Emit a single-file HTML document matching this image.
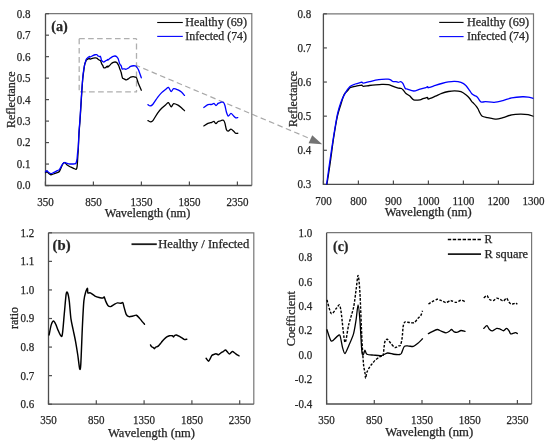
<!DOCTYPE html>
<html><head><meta charset="utf-8"><title>Figure</title>
<style>
html,body{margin:0;padding:0;background:#fff;width:550px;height:442px;overflow:hidden}
svg{display:block}
text{font-family:"Liberation Serif", "DejaVu Serif", serif}
</style></head>
<body>
<svg width="550" height="442" viewBox="0 0 550 442">
<rect width="550" height="442" fill="#fff"/>
<path d="M79.2 38.7 H136.6" fill="none" stroke="#afafaf" stroke-width="1.3" stroke-dasharray="5.6 3.35"/>
<path d="M79.2 38.7 V91.9" fill="none" stroke="#afafaf" stroke-width="1.3" stroke-dasharray="5.6 3.6"/>
<path d="M79.2 91.9 H137" fill="none" stroke="#afafaf" stroke-width="1.3" stroke-dasharray="5.7 3.33" stroke-dashoffset="-0.8"/>
<path d="M136.5 38.7 V91.9" fill="none" stroke="#afafaf" stroke-width="1.3" stroke-dasharray="5.8 3.5" stroke-dashoffset="4.4"/>
<line x1="136.4" y1="65.5" x2="308.5" y2="138.0" stroke="#a9a9a9" stroke-width="1.2" stroke-dasharray="5.6 3.5" stroke-dashoffset="1.65"/>
<polygon points="322.2,144.2 312.2,135.3 308.6,143.2" fill="#737373"/>
<path d="M45.50 13.70 H251.80 V185.50" fill="none" stroke="#777777" stroke-width="1.2"/>
<path d="M45.50 13.70 V185.50 H251.80" fill="none" stroke="#4d4d4d" stroke-width="1.3"/>
<line x1="45.50" y1="13.70" x2="49.00" y2="13.70" stroke="#4d4d4d" stroke-width="1.2"/>
<text x="30.40" y="17.60" font-size="11.5" text-anchor="end" font-weight="normal" fill="#262626" stroke="#262626" stroke-width="0.25"  textLength="13.75" lengthAdjust="spacingAndGlyphs">0.8</text>
<line x1="45.50" y1="35.18" x2="49.00" y2="35.18" stroke="#4d4d4d" stroke-width="1.2"/>
<text x="30.40" y="39.08" font-size="11.5" text-anchor="end" font-weight="normal" fill="#262626" stroke="#262626" stroke-width="0.25"  textLength="13.75" lengthAdjust="spacingAndGlyphs">0.7</text>
<line x1="45.50" y1="56.66" x2="49.00" y2="56.66" stroke="#4d4d4d" stroke-width="1.2"/>
<text x="30.40" y="60.56" font-size="11.5" text-anchor="end" font-weight="normal" fill="#262626" stroke="#262626" stroke-width="0.25"  textLength="13.75" lengthAdjust="spacingAndGlyphs">0.6</text>
<line x1="45.50" y1="78.14" x2="49.00" y2="78.14" stroke="#4d4d4d" stroke-width="1.2"/>
<text x="30.40" y="82.04" font-size="11.5" text-anchor="end" font-weight="normal" fill="#262626" stroke="#262626" stroke-width="0.25"  textLength="13.75" lengthAdjust="spacingAndGlyphs">0.5</text>
<line x1="45.50" y1="99.62" x2="49.00" y2="99.62" stroke="#4d4d4d" stroke-width="1.2"/>
<text x="30.40" y="103.52" font-size="11.5" text-anchor="end" font-weight="normal" fill="#262626" stroke="#262626" stroke-width="0.25"  textLength="13.75" lengthAdjust="spacingAndGlyphs">0.4</text>
<line x1="45.50" y1="121.10" x2="49.00" y2="121.10" stroke="#4d4d4d" stroke-width="1.2"/>
<text x="30.40" y="125.00" font-size="11.5" text-anchor="end" font-weight="normal" fill="#262626" stroke="#262626" stroke-width="0.25"  textLength="13.75" lengthAdjust="spacingAndGlyphs">0.3</text>
<line x1="45.50" y1="142.58" x2="49.00" y2="142.58" stroke="#4d4d4d" stroke-width="1.2"/>
<text x="30.40" y="146.48" font-size="11.5" text-anchor="end" font-weight="normal" fill="#262626" stroke="#262626" stroke-width="0.25"  textLength="13.75" lengthAdjust="spacingAndGlyphs">0.2</text>
<line x1="45.50" y1="164.06" x2="49.00" y2="164.06" stroke="#4d4d4d" stroke-width="1.2"/>
<text x="30.40" y="167.96" font-size="11.5" text-anchor="end" font-weight="normal" fill="#262626" stroke="#262626" stroke-width="0.25"  textLength="13.75" lengthAdjust="spacingAndGlyphs">0.1</text>
<line x1="45.50" y1="185.54" x2="49.00" y2="185.54" stroke="#4d4d4d" stroke-width="1.2"/>
<text x="30.40" y="189.44" font-size="11.5" text-anchor="end" font-weight="normal" fill="#262626" stroke="#262626" stroke-width="0.25"  textLength="13.75" lengthAdjust="spacingAndGlyphs">0.0</text>
<line x1="45.40" y1="185.50" x2="45.40" y2="181.50" stroke="#4d4d4d" stroke-width="1.2"/>
<text x="45.40" y="205.80" font-size="11.5" text-anchor="middle" font-weight="normal" fill="#262626" stroke="#262626" stroke-width="0.25"  textLength="16.50" lengthAdjust="spacingAndGlyphs">350</text>
<line x1="93.40" y1="185.50" x2="93.40" y2="181.50" stroke="#4d4d4d" stroke-width="1.2"/>
<text x="93.40" y="205.80" font-size="11.5" text-anchor="middle" font-weight="normal" fill="#262626" stroke="#262626" stroke-width="0.25"  textLength="16.50" lengthAdjust="spacingAndGlyphs">850</text>
<line x1="141.40" y1="185.50" x2="141.40" y2="181.50" stroke="#4d4d4d" stroke-width="1.2"/>
<text x="141.40" y="205.80" font-size="11.5" text-anchor="middle" font-weight="normal" fill="#262626" stroke="#262626" stroke-width="0.25"  textLength="22.00" lengthAdjust="spacingAndGlyphs">1350</text>
<line x1="189.40" y1="185.50" x2="189.40" y2="181.50" stroke="#4d4d4d" stroke-width="1.2"/>
<text x="189.40" y="205.80" font-size="11.5" text-anchor="middle" font-weight="normal" fill="#262626" stroke="#262626" stroke-width="0.25"  textLength="22.00" lengthAdjust="spacingAndGlyphs">1850</text>
<line x1="237.40" y1="185.50" x2="237.40" y2="181.50" stroke="#4d4d4d" stroke-width="1.2"/>
<text x="237.40" y="205.80" font-size="11.5" text-anchor="middle" font-weight="normal" fill="#262626" stroke="#262626" stroke-width="0.25"  textLength="22.00" lengthAdjust="spacingAndGlyphs">2350</text>
<text x="147.50" y="217.40" font-size="11.5" text-anchor="middle" font-weight="normal" fill="#262626" stroke="#262626" stroke-width="0.25"  textLength="85.50" lengthAdjust="spacingAndGlyphs">Wavelength (nm)</text>
<text x="0.00" y="0.00" font-size="11.5" text-anchor="middle" font-weight="normal" fill="#262626" stroke="#262626" stroke-width="0.25" transform="translate(15.2,99.8) rotate(-90)" textLength="56.50" lengthAdjust="spacingAndGlyphs">Reflectance</text>
<text x="51.20" y="30.80" font-size="14.2" text-anchor="start" font-weight="bold" fill="#262626" stroke="#262626" stroke-width="0.25"  textLength="16.60" lengthAdjust="spacingAndGlyphs">(a)</text>
<line x1="157.2" y1="22.5" x2="182.8" y2="22.5" stroke="#000" stroke-width="1.1"/>
<line x1="157.2" y1="36.4" x2="182.8" y2="36.4" stroke="#0000ff" stroke-width="1.1"/>
<text x="185.30" y="25.80" font-size="11.5" text-anchor="start" font-weight="normal" fill="#262626" stroke="#262626" stroke-width="0.25"  textLength="61.70" lengthAdjust="spacingAndGlyphs">Healthy (69)</text>
<text x="185.30" y="40.00" font-size="11.5" text-anchor="start" font-weight="normal" fill="#262626" stroke="#262626" stroke-width="0.25"  textLength="61.70" lengthAdjust="spacingAndGlyphs">Infected (74)</text>
<path d="M45.50 172.60 C45.69 172.49 46.55 171.68 46.94 171.74 C47.32 171.80 47.85 172.63 48.38 173.03 C48.90 173.43 50.19 174.62 50.87 174.75 C51.55 174.88 52.72 174.24 53.46 174.00 C54.21 173.75 55.66 173.23 56.44 172.90 C57.22 172.57 58.64 172.34 59.32 171.53 C60.00 170.71 61.05 167.83 61.53 166.80 C62.00 165.76 62.45 164.33 62.87 163.78 C63.29 163.24 64.21 162.62 64.70 162.71 C65.18 162.80 65.98 164.00 66.52 164.43 C67.06 164.86 68.05 165.53 68.73 165.94 C69.41 166.34 70.84 167.07 71.61 167.44 C72.38 167.81 73.90 168.47 74.49 168.73 C75.08 168.99 75.68 169.63 76.02 169.38 C76.37 169.12 76.85 168.40 77.08 166.80 C77.31 165.19 77.60 159.57 77.75 157.34 C77.91 155.10 78.07 153.15 78.23 150.03 C78.40 146.90 78.77 137.77 79.00 133.90 C79.23 130.03 79.72 124.44 79.96 121.00 C80.20 117.56 80.58 111.97 80.82 108.10 C81.07 104.23 81.52 95.99 81.78 91.97 C82.05 87.96 82.57 80.87 82.84 78.00 C83.11 75.13 83.56 72.28 83.80 70.47 C84.04 68.67 84.41 65.63 84.66 64.46 C84.92 63.28 85.50 62.24 85.72 61.66 C85.94 61.08 86.03 60.43 86.30 60.09 C86.56 59.76 87.34 59.35 87.74 59.14 C88.13 58.94 89.03 58.62 89.27 58.52 C89.52 58.43 89.47 58.35 89.56 58.44 C89.65 58.52 89.68 59.16 89.94 59.19 C90.21 59.22 91.13 58.78 91.58 58.65 C92.02 58.52 92.84 58.31 93.30 58.22 C93.76 58.13 94.57 57.96 95.03 57.94 C95.49 57.92 96.39 57.94 96.76 58.07 C97.13 58.20 97.59 58.69 97.82 58.89 C98.05 59.08 98.26 59.32 98.49 59.51 C98.72 59.70 99.29 60.15 99.54 60.28 C99.80 60.42 100.22 60.35 100.41 60.54 C100.60 60.73 100.82 61.31 100.98 61.72 C101.15 62.14 101.43 63.20 101.66 63.68 C101.89 64.16 102.43 64.80 102.71 65.34 C102.99 65.88 103.40 67.40 103.77 67.72 C104.14 68.04 105.16 67.82 105.50 67.72 C105.83 67.62 106.05 67.15 106.26 66.97 C106.48 66.79 106.95 66.49 107.13 66.39 C107.31 66.29 107.52 66.11 107.61 66.22 C107.70 66.32 107.52 67.28 107.80 67.16 C108.08 67.05 109.23 65.85 109.72 65.38 C110.21 64.91 110.97 64.01 111.45 63.62 C111.92 63.22 112.80 62.65 113.27 62.43 C113.75 62.22 114.54 61.97 115.00 61.98 C115.46 62.00 116.31 62.20 116.73 62.56 C117.15 62.92 117.85 64.10 118.17 64.67 C118.49 65.24 118.92 66.28 119.13 66.82 C119.33 67.36 119.55 68.33 119.70 68.75 C119.86 69.18 120.11 69.64 120.28 70.04 C120.45 70.45 120.80 71.31 120.95 71.77 C121.11 72.22 121.30 72.94 121.43 73.48 C121.56 74.03 121.76 75.24 121.91 75.85 C122.07 76.46 122.30 77.66 122.58 78.06 C122.87 78.47 123.51 78.62 124.02 78.86 C124.54 79.10 125.86 79.83 126.42 79.83 C126.99 79.83 127.68 79.22 128.25 78.86 C128.81 78.50 130.01 77.43 130.65 77.14 C131.29 76.85 132.45 76.72 133.05 76.71 C133.65 76.70 134.69 76.85 135.16 77.03 C135.63 77.21 136.16 77.19 136.60 78.06 C137.04 78.94 137.80 81.96 138.42 83.59 C139.05 85.22 140.92 89.37 141.30 90.25" fill="none" stroke="#000" stroke-width="1.3" stroke-linejoin="round" stroke-linecap="round" />
<path d="M147.93 120.57 C148.24 120.74 149.57 121.86 150.23 121.86 C150.90 121.86 151.93 121.75 152.92 120.57 C153.91 119.39 156.46 114.68 157.62 113.05 C158.79 111.41 160.57 109.43 161.66 108.31 C162.74 107.20 164.88 105.41 165.78 104.66 C166.69 103.91 167.76 102.43 168.47 102.72 C169.19 103.02 170.47 106.78 171.16 106.90 C171.85 107.01 172.75 103.83 173.66 103.58 C174.56 103.34 176.94 104.55 177.98 105.09 C179.01 105.63 180.56 106.92 181.43 107.67 C182.30 108.42 184.09 110.28 184.50 110.68" fill="none" stroke="#000" stroke-width="1.3" stroke-linejoin="round" stroke-linecap="round" />
<path d="M203.80 125.94 C204.35 125.60 206.84 123.85 207.93 123.37 C209.02 122.88 211.15 122.55 211.96 122.29 C212.77 122.03 213.44 121.24 213.98 121.43 C214.51 121.62 215.44 123.71 215.99 123.71 C216.54 123.71 217.55 121.79 218.10 121.43 C218.65 121.07 219.67 121.14 220.12 121.00 C220.57 120.86 221.02 120.44 221.46 120.36 C221.91 120.27 223.02 119.98 223.48 120.36 C223.94 120.73 224.52 121.89 224.92 123.15 C225.32 124.41 226.01 128.74 226.46 129.81 C226.90 130.89 227.68 131.28 228.28 131.19 C228.88 131.10 230.25 129.17 230.97 129.17 C231.68 129.17 233.03 130.65 233.66 131.19 C234.28 131.74 235.12 132.98 235.67 133.25 C236.22 133.53 237.50 133.25 237.78 133.25" fill="none" stroke="#000" stroke-width="1.3" stroke-linejoin="round" stroke-linecap="round" />
<path d="M45.50 171.74 C45.69 171.60 46.55 170.61 46.94 170.66 C47.32 170.72 47.85 171.77 48.38 172.17 C48.90 172.57 50.19 173.62 50.87 173.68 C51.55 173.73 52.72 172.94 53.46 172.60 C54.21 172.26 55.66 171.50 56.44 171.09 C57.22 170.69 58.64 170.28 59.32 169.59 C60.00 168.90 61.05 166.74 61.53 165.94 C62.00 165.13 62.45 164.03 62.87 163.57 C63.29 163.11 64.21 162.55 64.70 162.50 C65.18 162.44 65.98 162.97 66.52 163.14 C67.06 163.31 68.05 163.67 68.73 163.78 C69.41 163.90 70.84 164.00 71.61 164.00 C72.38 164.00 73.90 163.90 74.49 163.78 C75.08 163.67 75.68 163.83 76.02 163.14 C76.37 162.45 76.88 160.00 77.08 158.62 C77.28 157.25 77.41 154.25 77.56 152.82 C77.71 151.39 78.04 150.68 78.23 147.88 C78.42 145.07 78.78 135.33 79.00 131.75 C79.22 128.17 79.63 124.30 79.86 121.00 C80.09 117.70 80.47 111.04 80.73 107.03 C80.98 103.01 81.50 94.91 81.78 90.90 C82.07 86.89 82.57 79.82 82.84 76.92 C83.11 74.03 83.52 70.96 83.80 69.18 C84.08 67.41 84.62 64.91 84.95 63.60 C85.28 62.28 85.92 60.08 86.30 59.30 C86.67 58.51 87.34 58.06 87.74 57.70 C88.13 57.35 89.03 56.79 89.27 56.63 C89.52 56.47 89.47 56.43 89.56 56.50 C89.65 56.57 89.68 57.18 89.94 57.15 C90.21 57.11 91.13 56.49 91.58 56.24 C92.02 56.00 92.84 55.50 93.30 55.30 C93.76 55.10 94.57 54.82 95.03 54.74 C95.49 54.65 96.44 54.62 96.76 54.67 C97.08 54.72 97.27 54.91 97.43 55.10 C97.60 55.29 97.82 55.96 98.01 56.11 C98.20 56.26 98.67 56.17 98.87 56.24 C99.08 56.31 99.36 56.63 99.54 56.63 C99.72 56.63 100.05 56.15 100.22 56.24 C100.38 56.33 100.63 56.74 100.79 57.32 C100.96 57.89 101.30 60.06 101.46 60.54 C101.63 61.02 101.73 60.70 102.04 60.91 C102.35 61.12 103.31 62.11 103.77 62.11 C104.23 62.11 105.05 61.20 105.50 60.91 C105.94 60.62 106.85 60.16 107.13 59.94 C107.41 59.73 107.52 59.28 107.61 59.30 C107.70 59.31 107.52 60.14 107.80 60.05 C108.08 59.95 109.23 58.94 109.72 58.59 C110.21 58.23 110.97 57.68 111.45 57.38 C111.92 57.09 112.80 56.55 113.27 56.37 C113.75 56.19 114.54 55.96 115.00 56.01 C115.46 56.05 116.32 56.35 116.73 56.69 C117.14 57.04 117.75 57.89 118.07 58.59 C118.39 59.28 118.91 61.18 119.13 61.88 C119.35 62.57 119.54 63.41 119.70 63.81 C119.87 64.21 120.21 64.67 120.38 64.88 C120.54 65.10 120.81 65.19 120.95 65.42 C121.09 65.65 121.30 66.22 121.43 66.60 C121.56 66.99 121.78 67.98 121.91 68.32 C122.04 68.67 122.19 69.12 122.39 69.18 C122.60 69.25 122.99 68.79 123.45 68.80 C123.91 68.81 125.21 69.34 125.85 69.25 C126.49 69.16 127.61 68.48 128.25 68.11 C128.89 67.74 129.93 66.77 130.65 66.45 C131.36 66.14 133.02 65.81 133.62 65.74 C134.23 65.68 134.76 65.82 135.16 65.96 C135.56 66.10 136.16 66.30 136.60 66.82 C137.04 67.34 137.80 68.37 138.42 69.83 C139.05 71.29 140.92 76.72 141.30 77.78" fill="none" stroke="#0000ff" stroke-width="1.3" stroke-linejoin="round" stroke-linecap="round" />
<path d="M147.93 104.66 C148.24 104.83 149.57 106.01 150.23 105.95 C150.90 105.89 151.93 105.38 152.92 104.23 C153.91 103.08 156.46 98.90 157.62 97.35 C158.79 95.80 160.57 93.69 161.66 92.62 C162.74 91.55 164.88 90.00 165.78 89.31 C166.69 88.62 167.76 87.15 168.47 87.46 C169.19 87.77 170.47 91.46 171.16 91.61 C171.85 91.76 172.75 88.83 173.66 88.60 C174.56 88.37 176.94 89.44 177.98 89.89 C179.01 90.34 180.56 91.24 181.43 91.97 C182.30 92.71 184.09 94.96 184.50 95.42" fill="none" stroke="#0000ff" stroke-width="1.3" stroke-linejoin="round" stroke-linecap="round" />
<path d="M203.80 107.45 C204.35 107.08 206.84 105.06 207.93 104.66 C209.02 104.26 211.15 104.62 211.96 104.44 C212.77 104.27 213.44 103.23 213.98 103.37 C214.51 103.51 215.44 105.52 215.99 105.52 C216.54 105.52 217.55 103.76 218.10 103.37 C218.65 102.98 219.67 102.77 220.12 102.60 C220.57 102.42 221.02 102.11 221.46 102.08 C221.91 102.05 223.02 101.94 223.48 102.40 C223.94 102.86 224.52 104.22 224.92 105.52 C225.32 106.82 226.01 110.78 226.46 112.18 C226.90 113.59 227.68 115.88 228.28 116.05 C228.88 116.23 230.25 113.47 230.97 113.47 C231.68 113.47 233.03 115.48 233.66 116.05 C234.28 116.63 235.12 117.57 235.67 117.78 C236.22 117.98 237.50 117.59 237.78 117.56" fill="none" stroke="#0000ff" stroke-width="1.3" stroke-linejoin="round" stroke-linecap="round" />
<defs><clipPath id="cb"><rect x="323.40" y="13.80" width="210.10" height="170.60"/></clipPath></defs>
<path d="M323.40 13.80 H533.50 V184.40" fill="none" stroke="#777777" stroke-width="1.2"/>
<path d="M323.40 13.80 V184.40 H533.50" fill="none" stroke="#4d4d4d" stroke-width="1.3"/>
<line x1="323.40" y1="13.80" x2="326.90" y2="13.80" stroke="#4d4d4d" stroke-width="1.2"/>
<text x="311.30" y="17.70" font-size="11.5" text-anchor="end" font-weight="normal" fill="#262626" stroke="#262626" stroke-width="0.25"  textLength="13.75" lengthAdjust="spacingAndGlyphs">0.8</text>
<line x1="323.40" y1="47.92" x2="326.90" y2="47.92" stroke="#4d4d4d" stroke-width="1.2"/>
<text x="311.30" y="51.82" font-size="11.5" text-anchor="end" font-weight="normal" fill="#262626" stroke="#262626" stroke-width="0.25"  textLength="13.75" lengthAdjust="spacingAndGlyphs">0.7</text>
<line x1="323.40" y1="82.04" x2="326.90" y2="82.04" stroke="#4d4d4d" stroke-width="1.2"/>
<text x="311.30" y="85.94" font-size="11.5" text-anchor="end" font-weight="normal" fill="#262626" stroke="#262626" stroke-width="0.25"  textLength="13.75" lengthAdjust="spacingAndGlyphs">0.6</text>
<line x1="323.40" y1="116.16" x2="326.90" y2="116.16" stroke="#4d4d4d" stroke-width="1.2"/>
<text x="311.30" y="120.06" font-size="11.5" text-anchor="end" font-weight="normal" fill="#262626" stroke="#262626" stroke-width="0.25"  textLength="13.75" lengthAdjust="spacingAndGlyphs">0.5</text>
<line x1="323.40" y1="150.28" x2="326.90" y2="150.28" stroke="#4d4d4d" stroke-width="1.2"/>
<text x="311.30" y="154.18" font-size="11.5" text-anchor="end" font-weight="normal" fill="#262626" stroke="#262626" stroke-width="0.25"  textLength="13.75" lengthAdjust="spacingAndGlyphs">0.4</text>
<line x1="323.40" y1="184.40" x2="326.90" y2="184.40" stroke="#4d4d4d" stroke-width="1.2"/>
<text x="311.30" y="188.30" font-size="11.5" text-anchor="end" font-weight="normal" fill="#262626" stroke="#262626" stroke-width="0.25"  textLength="13.75" lengthAdjust="spacingAndGlyphs">0.3</text>
<line x1="323.40" y1="184.40" x2="323.40" y2="180.40" stroke="#4d4d4d" stroke-width="1.2"/>
<text x="323.40" y="204.80" font-size="11.5" text-anchor="middle" font-weight="normal" fill="#262626" stroke="#262626" stroke-width="0.25"  textLength="16.50" lengthAdjust="spacingAndGlyphs">700</text>
<line x1="358.40" y1="184.40" x2="358.40" y2="180.40" stroke="#4d4d4d" stroke-width="1.2"/>
<text x="358.40" y="204.80" font-size="11.5" text-anchor="middle" font-weight="normal" fill="#262626" stroke="#262626" stroke-width="0.25"  textLength="16.50" lengthAdjust="spacingAndGlyphs">800</text>
<line x1="393.40" y1="184.40" x2="393.40" y2="180.40" stroke="#4d4d4d" stroke-width="1.2"/>
<text x="393.40" y="204.80" font-size="11.5" text-anchor="middle" font-weight="normal" fill="#262626" stroke="#262626" stroke-width="0.25"  textLength="16.50" lengthAdjust="spacingAndGlyphs">900</text>
<line x1="428.40" y1="184.40" x2="428.40" y2="180.40" stroke="#4d4d4d" stroke-width="1.2"/>
<text x="428.40" y="204.80" font-size="11.5" text-anchor="middle" font-weight="normal" fill="#262626" stroke="#262626" stroke-width="0.25"  textLength="22.00" lengthAdjust="spacingAndGlyphs">1000</text>
<line x1="463.40" y1="184.40" x2="463.40" y2="180.40" stroke="#4d4d4d" stroke-width="1.2"/>
<text x="463.40" y="204.80" font-size="11.5" text-anchor="middle" font-weight="normal" fill="#262626" stroke="#262626" stroke-width="0.25"  textLength="22.00" lengthAdjust="spacingAndGlyphs">1100</text>
<line x1="498.40" y1="184.40" x2="498.40" y2="180.40" stroke="#4d4d4d" stroke-width="1.2"/>
<text x="498.40" y="204.80" font-size="11.5" text-anchor="middle" font-weight="normal" fill="#262626" stroke="#262626" stroke-width="0.25"  textLength="22.00" lengthAdjust="spacingAndGlyphs">1200</text>
<line x1="533.40" y1="184.40" x2="533.40" y2="180.40" stroke="#4d4d4d" stroke-width="1.2"/>
<text x="533.40" y="204.80" font-size="11.5" text-anchor="middle" font-weight="normal" fill="#262626" stroke="#262626" stroke-width="0.25"  textLength="22.00" lengthAdjust="spacingAndGlyphs">1300</text>
<text x="428.20" y="216.40" font-size="11.5" text-anchor="middle" font-weight="normal" fill="#262626" stroke="#262626" stroke-width="0.25"  textLength="87.00" lengthAdjust="spacingAndGlyphs">Wavelength (nm)</text>
<text x="0.00" y="0.00" font-size="11.5" text-anchor="middle" font-weight="normal" fill="#262626" stroke="#262626" stroke-width="0.25" transform="translate(296.6,99) rotate(-90)" textLength="56.00" lengthAdjust="spacingAndGlyphs">Reflectance</text>
<line x1="439.2" y1="22.4" x2="463.6" y2="22.4" stroke="#000" stroke-width="1.1"/>
<line x1="439.2" y1="36.6" x2="463.6" y2="36.6" stroke="#0000ff" stroke-width="1.1"/>
<text x="466.90" y="25.70" font-size="11.5" text-anchor="start" font-weight="normal" fill="#262626" stroke="#262626" stroke-width="0.25"  textLength="62.20" lengthAdjust="spacingAndGlyphs">Healthy (69)</text>
<text x="466.90" y="39.60" font-size="11.5" text-anchor="start" font-weight="normal" fill="#262626" stroke="#262626" stroke-width="0.25"  textLength="62.20" lengthAdjust="spacingAndGlyphs">Infected (74)</text>
<g clip-path="url(#cb)">
<path d="M318.85 242.03 C319.08 240.48 319.99 235.39 320.60 230.44 C321.21 225.48 322.56 211.00 323.40 204.86 C324.24 198.72 326.01 189.86 326.90 184.40 C327.79 178.94 329.16 170.08 330.05 163.94 C330.94 157.80 332.57 144.73 333.55 138.37 C334.53 132.00 336.42 120.75 337.40 116.20 C338.38 111.65 340.01 107.13 340.90 104.26 C341.79 101.40 343.12 96.58 344.05 94.72 C344.98 92.85 347.11 91.21 347.90 90.28 C348.69 89.36 349.02 88.33 350.00 87.79 C350.98 87.26 353.80 86.63 355.25 86.29 C356.70 85.96 359.96 85.46 360.85 85.31 C361.74 85.16 361.57 85.03 361.90 85.17 C362.23 85.31 362.32 86.32 363.30 86.36 C364.28 86.41 367.62 85.71 369.25 85.51 C370.88 85.31 373.87 84.98 375.55 84.83 C377.23 84.68 380.17 84.42 381.85 84.38 C383.53 84.35 386.80 84.39 388.15 84.59 C389.50 84.79 391.16 85.58 392.00 85.89 C392.84 86.19 393.61 86.58 394.45 86.87 C395.29 87.17 397.37 87.88 398.30 88.10 C399.23 88.32 400.75 88.21 401.45 88.51 C402.15 88.82 402.94 89.72 403.55 90.39 C404.16 91.05 405.16 92.73 406.00 93.49 C406.84 94.25 408.82 95.26 409.85 96.12 C410.88 96.97 412.35 99.40 413.70 99.90 C415.05 100.40 418.79 100.06 420.00 99.90 C421.21 99.74 422.01 98.99 422.80 98.71 C423.59 98.42 425.30 97.95 425.95 97.79 C426.60 97.63 427.37 97.35 427.70 97.51 C428.03 97.68 427.37 99.19 428.40 99.01 C429.43 98.84 433.63 96.93 435.40 96.18 C437.17 95.43 439.97 94.01 441.70 93.39 C443.43 92.76 446.62 91.86 448.35 91.51 C450.08 91.17 452.97 90.77 454.65 90.80 C456.33 90.82 459.41 91.15 460.95 91.72 C462.49 92.28 465.03 94.16 466.20 95.06 C467.37 95.96 468.95 97.60 469.70 98.47 C470.45 99.33 471.24 100.85 471.80 101.54 C472.36 102.22 473.29 102.95 473.90 103.58 C474.51 104.22 475.79 105.58 476.35 106.31 C476.91 107.04 477.63 108.18 478.10 109.04 C478.57 109.90 479.29 111.82 479.85 112.79 C480.41 113.76 481.27 115.67 482.30 116.30 C483.33 116.94 485.68 117.19 487.55 117.56 C489.42 117.94 494.25 119.10 496.30 119.10 C498.35 119.10 500.90 118.13 502.95 117.56 C505.00 117.00 509.37 115.29 511.70 114.84 C514.03 114.38 518.26 114.18 520.45 114.15 C522.64 114.13 526.42 114.38 528.15 114.67 C529.88 114.95 532.70 116.08 533.40 116.30" fill="none" stroke="#000" stroke-width="1.3" stroke-linejoin="round" stroke-linecap="round" />
<path d="M318.15 234.87 C318.48 233.82 319.90 231.48 320.60 227.03 C321.30 222.57 322.61 207.13 323.40 201.45 C324.19 195.77 325.71 189.63 326.55 184.40 C327.39 179.17 328.77 168.60 329.70 162.24 C330.63 155.87 332.52 143.03 333.55 136.66 C334.58 130.29 336.42 119.09 337.40 114.50 C338.38 109.90 339.87 105.04 340.90 102.22 C341.93 99.40 343.89 95.44 345.10 93.35 C346.31 91.26 348.65 87.78 350.00 86.53 C351.35 85.29 353.80 84.57 355.25 84.01 C356.70 83.45 359.96 82.56 360.85 82.30 C361.74 82.05 361.57 81.99 361.90 82.10 C362.23 82.21 362.32 83.18 363.30 83.12 C364.28 83.07 367.62 82.08 369.25 81.69 C370.88 81.30 373.87 80.51 375.55 80.19 C377.23 79.87 380.17 79.44 381.85 79.30 C383.53 79.17 386.98 79.12 388.15 79.20 C389.32 79.28 389.99 79.58 390.60 79.88 C391.21 80.19 392.00 81.25 392.70 81.49 C393.40 81.73 395.10 81.58 395.85 81.69 C396.60 81.80 397.65 82.30 398.30 82.30 C398.95 82.30 400.14 81.55 400.75 81.69 C401.36 81.84 402.24 82.49 402.85 83.40 C403.46 84.31 404.69 87.75 405.30 88.51 C405.91 89.27 406.28 88.76 407.40 89.09 C408.52 89.42 412.02 91.00 413.70 91.00 C415.38 91.00 418.37 89.55 420.00 89.09 C421.63 88.63 424.92 87.90 425.95 87.56 C426.98 87.22 427.37 86.51 427.70 86.53 C428.03 86.56 427.37 87.88 428.40 87.73 C429.43 87.58 433.63 85.97 435.40 85.41 C437.17 84.84 439.97 83.97 441.70 83.50 C443.43 83.03 446.62 82.19 448.35 81.90 C450.08 81.60 452.97 81.25 454.65 81.32 C456.33 81.38 459.46 81.86 460.95 82.41 C462.44 82.95 464.68 84.31 465.85 85.41 C467.02 86.50 468.91 89.52 469.70 90.63 C470.49 91.73 471.19 93.06 471.80 93.69 C472.41 94.33 473.64 95.06 474.25 95.40 C474.86 95.74 475.84 95.89 476.35 96.25 C476.86 96.62 477.63 97.51 478.10 98.13 C478.57 98.74 479.38 100.31 479.85 100.85 C480.32 101.40 480.85 102.12 481.60 102.22 C482.35 102.32 483.77 101.59 485.45 101.61 C487.13 101.62 491.87 102.47 494.20 102.32 C496.53 102.18 500.62 101.11 502.95 100.51 C505.28 99.92 509.09 98.39 511.70 97.89 C514.31 97.39 520.36 96.87 522.55 96.76 C524.74 96.66 526.70 96.88 528.15 97.10 C529.60 97.33 532.70 98.29 533.40 98.47" fill="none" stroke="#0000ff" stroke-width="1.3" stroke-linejoin="round" stroke-linecap="round" />
</g>
<path d="M48.50 232.80 H253.80 V404.20" fill="none" stroke="#777777" stroke-width="1.2"/>
<path d="M48.50 232.80 V404.20 H253.80" fill="none" stroke="#4d4d4d" stroke-width="1.3"/>
<line x1="48.50" y1="232.80" x2="52.00" y2="232.80" stroke="#4d4d4d" stroke-width="1.2"/>
<text x="34.20" y="236.70" font-size="11.5" text-anchor="end" font-weight="normal" fill="#262626" stroke="#262626" stroke-width="0.25"  textLength="13.75" lengthAdjust="spacingAndGlyphs">1.2</text>
<line x1="48.50" y1="261.37" x2="52.00" y2="261.37" stroke="#4d4d4d" stroke-width="1.2"/>
<text x="34.20" y="265.27" font-size="11.5" text-anchor="end" font-weight="normal" fill="#262626" stroke="#262626" stroke-width="0.25"  textLength="13.75" lengthAdjust="spacingAndGlyphs">1.1</text>
<line x1="48.50" y1="289.94" x2="52.00" y2="289.94" stroke="#4d4d4d" stroke-width="1.2"/>
<text x="34.20" y="293.84" font-size="11.5" text-anchor="end" font-weight="normal" fill="#262626" stroke="#262626" stroke-width="0.25"  textLength="13.75" lengthAdjust="spacingAndGlyphs">1.0</text>
<line x1="48.50" y1="318.51" x2="52.00" y2="318.51" stroke="#4d4d4d" stroke-width="1.2"/>
<text x="34.20" y="322.41" font-size="11.5" text-anchor="end" font-weight="normal" fill="#262626" stroke="#262626" stroke-width="0.25"  textLength="13.75" lengthAdjust="spacingAndGlyphs">0.9</text>
<line x1="48.50" y1="347.08" x2="52.00" y2="347.08" stroke="#4d4d4d" stroke-width="1.2"/>
<text x="34.20" y="350.98" font-size="11.5" text-anchor="end" font-weight="normal" fill="#262626" stroke="#262626" stroke-width="0.25"  textLength="13.75" lengthAdjust="spacingAndGlyphs">0.8</text>
<line x1="48.50" y1="375.65" x2="52.00" y2="375.65" stroke="#4d4d4d" stroke-width="1.2"/>
<text x="34.20" y="379.55" font-size="11.5" text-anchor="end" font-weight="normal" fill="#262626" stroke="#262626" stroke-width="0.25"  textLength="13.75" lengthAdjust="spacingAndGlyphs">0.7</text>
<line x1="48.50" y1="404.22" x2="52.00" y2="404.22" stroke="#4d4d4d" stroke-width="1.2"/>
<text x="34.20" y="408.12" font-size="11.5" text-anchor="end" font-weight="normal" fill="#262626" stroke="#262626" stroke-width="0.25"  textLength="13.75" lengthAdjust="spacingAndGlyphs">0.6</text>
<line x1="48.50" y1="404.20" x2="48.50" y2="400.20" stroke="#4d4d4d" stroke-width="1.2"/>
<text x="48.50" y="424.30" font-size="11.5" text-anchor="middle" font-weight="normal" fill="#262626" stroke="#262626" stroke-width="0.25"  textLength="16.50" lengthAdjust="spacingAndGlyphs">350</text>
<line x1="96.30" y1="404.20" x2="96.30" y2="400.20" stroke="#4d4d4d" stroke-width="1.2"/>
<text x="96.30" y="424.30" font-size="11.5" text-anchor="middle" font-weight="normal" fill="#262626" stroke="#262626" stroke-width="0.25"  textLength="16.50" lengthAdjust="spacingAndGlyphs">850</text>
<line x1="144.10" y1="404.20" x2="144.10" y2="400.20" stroke="#4d4d4d" stroke-width="1.2"/>
<text x="144.10" y="424.30" font-size="11.5" text-anchor="middle" font-weight="normal" fill="#262626" stroke="#262626" stroke-width="0.25"  textLength="22.00" lengthAdjust="spacingAndGlyphs">1350</text>
<line x1="191.90" y1="404.20" x2="191.90" y2="400.20" stroke="#4d4d4d" stroke-width="1.2"/>
<text x="191.90" y="424.30" font-size="11.5" text-anchor="middle" font-weight="normal" fill="#262626" stroke="#262626" stroke-width="0.25"  textLength="22.00" lengthAdjust="spacingAndGlyphs">1850</text>
<line x1="239.70" y1="404.20" x2="239.70" y2="400.20" stroke="#4d4d4d" stroke-width="1.2"/>
<text x="239.70" y="424.30" font-size="11.5" text-anchor="middle" font-weight="normal" fill="#262626" stroke="#262626" stroke-width="0.25"  textLength="22.00" lengthAdjust="spacingAndGlyphs">2350</text>
<text x="151.50" y="436.60" font-size="11.5" text-anchor="middle" font-weight="normal" fill="#262626" stroke="#262626" stroke-width="0.25"  textLength="87.00" lengthAdjust="spacingAndGlyphs">Wavelength (nm)</text>
<text x="0.00" y="0.00" font-size="11.5" text-anchor="middle" font-weight="normal" fill="#262626" stroke="#262626" stroke-width="0.25" transform="translate(17.6,318) rotate(-90)" textLength="22.00" lengthAdjust="spacingAndGlyphs">ratio</text>
<text x="52.60" y="249.90" font-size="14.2" text-anchor="start" font-weight="bold" fill="#262626" stroke="#262626" stroke-width="0.25"  textLength="18.00" lengthAdjust="spacingAndGlyphs">(b)</text>
<line x1="131.5" y1="244.2" x2="156.8" y2="244.2" stroke="#1a1a1a" stroke-width="1.8"/>
<text x="158.20" y="248.00" font-size="11.5" text-anchor="start" font-weight="normal" fill="#262626" stroke="#262626" stroke-width="0.25"  textLength="91.00" lengthAdjust="spacingAndGlyphs">Healthy / Infected</text>
<path d="M49.08 334.93 C49.37 333.56 50.69 326.50 51.30 324.63 C51.90 322.77 52.99 320.92 53.61 320.92 C54.23 320.92 55.32 323.38 55.92 324.63 C56.53 325.89 57.33 328.83 58.14 330.35 C58.95 331.88 61.19 338.17 62.00 336.07 C62.81 333.98 63.66 320.23 64.21 314.62 C64.77 309.02 65.69 296.93 66.14 294.03 C66.59 291.13 67.18 291.97 67.59 292.89 C68.00 293.80 68.78 297.43 69.23 300.90 C69.68 304.37 70.42 314.99 70.96 318.91 C71.50 322.84 72.66 327.34 73.27 330.35 C73.89 333.37 74.98 338.19 75.59 341.51 C76.19 344.83 77.27 351.61 77.81 355.24 C78.35 358.86 79.24 367.46 79.64 368.68 C80.04 369.90 80.42 370.11 80.79 364.39 C81.17 358.67 82.02 334.24 82.43 325.78 C82.84 317.31 83.43 305.43 83.88 300.90 C84.33 296.36 85.32 293.42 85.81 291.74 C86.30 290.07 87.27 288.16 87.54 288.31 C87.81 288.46 87.46 292.28 87.83 292.89 C88.20 293.50 89.39 292.47 90.34 292.89 C91.29 293.31 93.80 295.42 94.96 296.03 C96.13 296.64 98.03 297.20 99.11 297.46 C100.19 297.73 102.38 298.11 103.06 298.04 C103.74 297.96 103.89 296.51 104.22 296.89 C104.55 297.27 105.08 299.75 105.57 300.90 C106.06 302.04 107.21 304.71 107.88 305.47 C108.55 306.23 109.77 306.73 110.58 306.62 C111.39 306.50 113.04 305.11 113.96 304.61 C114.87 304.12 116.51 303.07 117.43 302.90 C118.34 302.72 120.08 303.34 120.80 303.30 C121.52 303.26 122.37 302.04 122.82 302.61 C123.27 303.19 123.72 306.05 124.17 307.62 C124.62 309.18 125.57 313.14 126.20 314.34 C126.83 315.54 127.99 316.40 128.90 316.63 C129.81 316.85 132.04 316.24 133.04 316.05 C134.05 315.86 135.52 314.85 136.42 315.20 C137.32 315.54 138.98 317.74 139.79 318.63 C140.60 319.52 141.86 321.14 142.49 321.89 C143.12 322.63 144.24 323.90 144.51 324.21" fill="none" stroke="#000" stroke-width="1.45" stroke-linejoin="round" stroke-linecap="round" />
<path d="M150.49 344.94 C150.65 345.17 151.24 346.27 151.65 346.66 C152.06 347.04 153.19 347.53 153.58 347.80 C153.96 348.07 154.28 348.73 154.54 348.66 C154.80 348.58 155.02 347.57 155.50 347.23 C155.99 346.88 157.42 346.73 158.20 346.08 C158.99 345.44 160.60 343.28 161.38 342.37 C162.17 341.45 163.36 339.94 164.08 339.22 C164.80 338.50 166.06 337.39 166.78 336.93 C167.50 336.47 168.75 335.94 169.48 335.79 C170.21 335.64 171.72 335.64 172.28 335.79 C172.83 335.94 173.33 336.97 173.63 336.93 C173.92 336.89 174.12 335.77 174.49 335.50 C174.87 335.24 175.75 334.82 176.42 334.93 C177.09 335.04 178.72 335.93 179.51 336.36 C180.29 336.79 181.63 337.76 182.30 338.19 C182.97 338.62 183.92 339.45 184.52 339.59 C185.12 339.73 186.53 339.27 186.83 339.22" fill="none" stroke="#000" stroke-width="1.45" stroke-linejoin="round" stroke-linecap="round" />
<path d="M206.11 358.21 C206.44 358.61 207.95 361.24 208.52 361.24 C209.10 361.24 210.01 358.97 210.45 358.21 C210.89 357.45 211.31 356.03 211.80 355.52 C212.29 355.01 213.56 354.61 214.12 354.38 C214.67 354.15 215.34 353.77 215.95 353.81 C216.55 353.84 218.04 354.74 218.65 354.66 C219.25 354.59 219.87 353.65 220.48 353.23 C221.08 352.81 222.51 351.94 223.18 351.52 C223.85 351.10 224.94 350.05 225.49 350.09 C226.04 350.13 226.78 351.27 227.32 351.80 C227.86 352.34 228.87 354.13 229.54 354.09 C230.21 354.05 231.60 351.63 232.33 351.52 C233.07 351.40 234.38 352.78 235.03 353.23 C235.69 353.69 236.71 354.61 237.25 354.95 C237.79 355.29 238.84 355.69 239.08 355.81" fill="none" stroke="#000" stroke-width="1.45" stroke-linejoin="round" stroke-linecap="round" />
<path d="M326.60 232.70 H531.60 V404.00" fill="none" stroke="#777777" stroke-width="1.2"/>
<path d="M326.60 232.70 V404.00 H531.60" fill="none" stroke="#4d4d4d" stroke-width="1.3"/>
<text x="312.20" y="236.60" font-size="11.5" text-anchor="end" font-weight="normal" fill="#262626" stroke="#262626" stroke-width="0.25"  textLength="13.75" lengthAdjust="spacingAndGlyphs">1.0</text>
<text x="312.20" y="261.07" font-size="11.5" text-anchor="end" font-weight="normal" fill="#262626" stroke="#262626" stroke-width="0.25"  textLength="13.75" lengthAdjust="spacingAndGlyphs">0.8</text>
<text x="312.20" y="285.54" font-size="11.5" text-anchor="end" font-weight="normal" fill="#262626" stroke="#262626" stroke-width="0.25"  textLength="13.75" lengthAdjust="spacingAndGlyphs">0.6</text>
<text x="312.20" y="310.01" font-size="11.5" text-anchor="end" font-weight="normal" fill="#262626" stroke="#262626" stroke-width="0.25"  textLength="13.75" lengthAdjust="spacingAndGlyphs">0.4</text>
<text x="312.20" y="334.48" font-size="11.5" text-anchor="end" font-weight="normal" fill="#262626" stroke="#262626" stroke-width="0.25"  textLength="13.75" lengthAdjust="spacingAndGlyphs">0.2</text>
<text x="312.20" y="358.95" font-size="11.5" text-anchor="end" font-weight="normal" fill="#262626" stroke="#262626" stroke-width="0.25"  textLength="13.75" lengthAdjust="spacingAndGlyphs">0.0</text>
<text x="312.20" y="383.42" font-size="11.5" text-anchor="end" font-weight="normal" fill="#262626" stroke="#262626" stroke-width="0.25"  textLength="17.35" lengthAdjust="spacingAndGlyphs">-0.2</text>
<text x="312.20" y="407.89" font-size="11.5" text-anchor="end" font-weight="normal" fill="#262626" stroke="#262626" stroke-width="0.25"  textLength="17.35" lengthAdjust="spacingAndGlyphs">-0.4</text>
<line x1="326.60" y1="404.00" x2="326.60" y2="400.00" stroke="#4d4d4d" stroke-width="1.2"/>
<text x="326.60" y="424.30" font-size="11.5" text-anchor="middle" font-weight="normal" fill="#262626" stroke="#262626" stroke-width="0.25"  textLength="16.50" lengthAdjust="spacingAndGlyphs">350</text>
<line x1="374.30" y1="404.00" x2="374.30" y2="400.00" stroke="#4d4d4d" stroke-width="1.2"/>
<text x="374.30" y="424.30" font-size="11.5" text-anchor="middle" font-weight="normal" fill="#262626" stroke="#262626" stroke-width="0.25"  textLength="16.50" lengthAdjust="spacingAndGlyphs">850</text>
<line x1="422.00" y1="404.00" x2="422.00" y2="400.00" stroke="#4d4d4d" stroke-width="1.2"/>
<text x="422.00" y="424.30" font-size="11.5" text-anchor="middle" font-weight="normal" fill="#262626" stroke="#262626" stroke-width="0.25"  textLength="22.00" lengthAdjust="spacingAndGlyphs">1350</text>
<line x1="469.70" y1="404.00" x2="469.70" y2="400.00" stroke="#4d4d4d" stroke-width="1.2"/>
<text x="469.70" y="424.30" font-size="11.5" text-anchor="middle" font-weight="normal" fill="#262626" stroke="#262626" stroke-width="0.25"  textLength="22.00" lengthAdjust="spacingAndGlyphs">1850</text>
<line x1="517.40" y1="404.00" x2="517.40" y2="400.00" stroke="#4d4d4d" stroke-width="1.2"/>
<text x="517.40" y="424.30" font-size="11.5" text-anchor="middle" font-weight="normal" fill="#262626" stroke="#262626" stroke-width="0.25"  textLength="22.00" lengthAdjust="spacingAndGlyphs">2350</text>
<text x="429.20" y="435.80" font-size="11.5" text-anchor="middle" font-weight="normal" fill="#262626" stroke="#262626" stroke-width="0.25"  textLength="88.00" lengthAdjust="spacingAndGlyphs">Wavelength (nm)</text>
<text x="0.00" y="0.00" font-size="11.5" text-anchor="middle" font-weight="normal" fill="#262626" stroke="#262626" stroke-width="0.25" transform="translate(295,318.7) rotate(-90)" textLength="55.00" lengthAdjust="spacingAndGlyphs">Coefficient</text>
<text x="333.00" y="251.00" font-size="14.2" text-anchor="start" font-weight="bold" fill="#262626" stroke="#262626" stroke-width="0.25"  textLength="15.50" lengthAdjust="spacingAndGlyphs">(c)</text>
<line x1="447.8" y1="239.5" x2="481" y2="239.5" stroke="#000" stroke-width="1.45" stroke-dasharray="3.4 1.55"/>
<line x1="447.9" y1="254.1" x2="481" y2="254.1" stroke="#1a1a1a" stroke-width="1.75"/>
<text x="484.40" y="243.20" font-size="11.5" text-anchor="start" font-weight="normal" fill="#262626" stroke="#262626" stroke-width="0.25" >R</text>
<text x="484.40" y="257.80" font-size="11.5" text-anchor="start" font-weight="normal" fill="#262626" stroke="#262626" stroke-width="0.25"  textLength="43.60" lengthAdjust="spacingAndGlyphs">R square</text>
<path d="M326.98 299.90 C327.55 301.73 329.98 312.45 331.21 313.61 C332.44 314.77 335.11 309.75 336.20 308.59 C337.29 307.43 338.70 304.41 339.37 304.92 C340.03 305.42 340.45 307.40 341.19 312.38 C341.93 317.36 343.94 340.60 344.94 342.25 C345.93 343.90 347.53 329.40 348.68 324.74 C349.83 320.09 352.59 312.02 353.58 307.36 C354.56 302.71 355.47 294.10 356.07 289.86 C356.67 285.62 357.58 275.20 358.09 275.54 C358.60 275.88 359.40 283.86 359.91 292.43 C360.42 301.00 361.44 330.17 361.93 339.80 C362.41 349.43 363.16 360.32 363.56 364.65 C363.96 368.97 364.64 370.41 364.90 372.24 C365.17 374.06 365.31 378.36 365.58 378.36 C365.84 378.36 366.36 373.79 366.92 372.24 C367.48 370.69 369.08 367.87 369.80 366.73 C370.52 365.59 371.55 364.57 372.30 363.67 C373.04 362.77 374.42 360.89 375.37 360.00 C376.32 359.10 378.54 357.47 379.40 356.94 C380.26 356.40 381.29 356.20 381.80 355.96 C382.31 355.71 382.86 356.90 383.24 355.10 C383.62 353.30 384.16 344.61 384.68 342.49 C385.20 340.37 386.34 339.06 387.18 339.19 C388.01 339.32 389.87 342.36 390.92 343.47 C391.97 344.58 394.02 347.18 395.05 347.51 C396.07 347.84 397.87 346.23 398.60 345.92 C399.33 345.61 400.05 346.25 400.52 345.19 C400.99 344.12 401.81 340.41 402.15 337.96 C402.50 335.52 402.79 328.91 403.11 326.83 C403.43 324.74 404.14 322.95 404.55 322.30 C404.96 321.64 405.48 321.90 406.18 321.93 C406.89 321.96 408.76 322.44 409.83 322.54 C410.91 322.64 413.17 323.22 414.25 322.66 C415.32 322.11 417.01 319.36 417.90 318.38 C418.78 317.40 420.26 316.33 420.87 315.32 C421.49 314.31 422.29 311.40 422.50 310.79" fill="none" stroke="#000" stroke-width="1.4" stroke-linejoin="round" stroke-linecap="butt" stroke-dasharray="2.6 1.5"/>
<path d="M428.40 304.00 C428.85 303.73 430.63 302.63 431.80 302.00 C432.97 301.37 435.93 299.49 437.20 299.30 C438.47 299.11 440.13 300.16 441.30 300.60 C442.47 301.04 444.83 302.60 446.00 302.60 C447.17 302.60 449.29 300.81 450.10 300.60 C450.91 300.39 451.29 300.76 452.10 301.00 C452.91 301.24 455.01 302.51 456.20 302.40 C457.39 302.29 459.83 300.31 461.00 300.20 C462.17 300.09 464.47 301.41 465.00 301.60" fill="none" stroke="#000" stroke-width="1.4" stroke-linejoin="round" stroke-linecap="butt" stroke-dasharray="2.6 1.5"/>
<path d="M483.75 297.94 C484.17 297.63 486.28 295.58 486.92 295.61 C487.56 295.65 488.12 297.61 488.55 298.18 C488.99 298.76 489.56 299.57 490.18 299.90 C490.81 300.22 492.39 300.86 493.26 300.63 C494.13 300.40 495.80 298.36 496.71 298.18 C497.62 298.00 499.16 298.91 500.07 299.29 C500.98 299.66 502.67 301.15 503.53 301.00 C504.39 300.85 505.79 298.05 506.50 298.18 C507.22 298.31 508.30 301.20 508.90 301.98 C509.51 302.76 510.36 303.83 511.02 304.06 C511.67 304.29 513.17 303.84 513.80 303.69 C514.43 303.55 515.25 302.88 515.72 302.96 C516.19 303.04 517.13 304.12 517.35 304.30" fill="none" stroke="#000" stroke-width="1.4" stroke-linejoin="round" stroke-linecap="butt" stroke-dasharray="2.6 1.5"/>
<path d="M326.98 329.76 C327.55 331.26 329.98 340.01 331.21 341.02 C332.44 342.04 335.05 338.12 336.20 337.35 C337.35 336.58 339.02 333.97 339.85 335.27 C340.68 336.58 341.76 344.71 342.44 347.14 C343.12 349.58 344.10 353.67 344.94 353.51 C345.77 353.35 347.53 348.58 348.68 345.92 C349.83 343.26 352.59 337.03 353.58 333.56 C354.56 330.08 355.47 323.67 356.07 319.85 C356.67 316.03 357.58 304.92 358.09 304.92 C358.60 304.92 359.40 313.55 359.91 319.85 C360.42 326.15 361.44 347.58 361.93 352.16 C362.41 356.75 363.16 354.50 363.56 354.24 C363.96 353.98 364.46 350.20 364.90 350.20 C365.35 350.20 365.76 353.59 366.92 354.24 C368.08 354.90 371.72 354.92 373.64 355.10 C375.56 355.28 379.46 355.87 381.32 355.59 C383.18 355.31 385.90 353.20 387.56 353.02 C389.22 352.84 392.17 354.05 393.80 354.24 C395.43 354.44 398.73 354.62 399.75 354.49 C400.78 354.36 400.87 354.34 401.48 353.26 C402.09 352.19 403.40 347.37 404.36 346.41 C405.32 345.45 407.48 346.04 408.68 346.04 C409.88 346.04 412.16 346.77 413.38 346.41 C414.61 346.05 416.68 344.36 417.90 343.35 C419.11 342.34 421.89 339.42 422.50 338.82" fill="none" stroke="#000" stroke-width="1.3" stroke-linejoin="round" stroke-linecap="round" />
<path d="M428.40 333.60 C428.85 333.36 430.63 332.35 431.80 331.80 C432.97 331.25 435.93 329.58 437.20 329.50 C438.47 329.42 440.13 330.76 441.30 331.20 C442.47 331.64 444.92 332.80 446.00 332.80 C447.08 332.80 448.67 331.64 449.40 331.20 C450.13 330.76 450.86 329.42 451.50 329.50 C452.14 329.58 453.39 331.44 454.20 331.80 C455.01 332.16 456.69 332.37 457.60 332.20 C458.51 332.03 460.01 330.61 461.00 330.50 C461.99 330.39 464.47 331.28 465.00 331.40" fill="none" stroke="#000" stroke-width="1.3" stroke-linejoin="round" stroke-linecap="round" />
<path d="M483.75 328.42 C484.17 328.06 486.18 325.63 486.92 325.72 C487.66 325.82 488.56 328.47 489.32 329.15 C490.08 329.84 491.60 330.96 492.58 330.86 C493.57 330.77 495.71 328.66 496.71 328.42 C497.71 328.17 499.16 328.72 500.07 329.03 C500.98 329.34 502.67 330.82 503.53 330.74 C504.39 330.66 505.79 328.43 506.50 328.42 C507.22 328.40 508.35 329.89 508.90 330.62 C509.45 331.35 509.98 333.58 510.63 333.92 C511.28 334.27 513.12 333.35 513.80 333.19 C514.48 333.03 515.25 332.65 515.72 332.70 C516.19 332.75 517.13 333.44 517.35 333.56" fill="none" stroke="#000" stroke-width="1.3" stroke-linejoin="round" stroke-linecap="round" />
</svg>
</body></html>
